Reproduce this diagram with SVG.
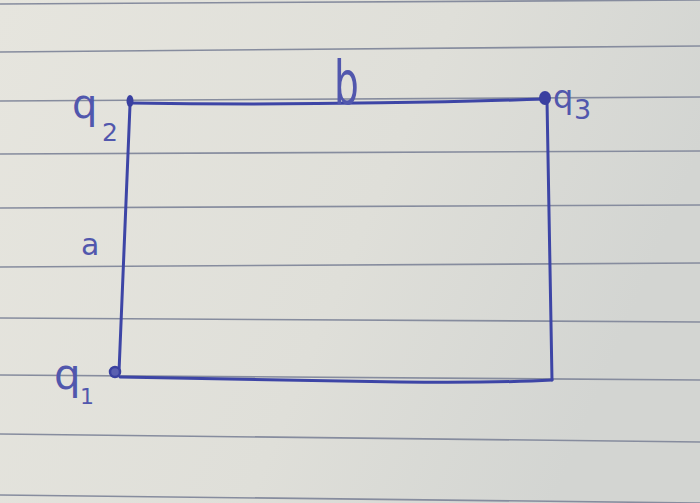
<svg xmlns="http://www.w3.org/2000/svg" width="700" height="503" viewBox="0 0 700 503">
<defs>
<linearGradient id="paper" x1="0" y1="0" x2="1" y2="0.3">
<stop offset="0" stop-color="#e6e5de"/>
<stop offset="0.6" stop-color="#dfdfd9"/>
<stop offset="1" stop-color="#d3d5d2"/>
</linearGradient>
</defs>
<style>
.rule{stroke:#868c9e;stroke-width:1.6;fill:none}
.ink{stroke:#3d45a6;stroke-width:3;fill:none;stroke-linecap:round;stroke-linejoin:round}
.dot{fill:#3a40a0}
.lbl{font-family:"DejaVu Sans","Liberation Sans",sans-serif;fill:#5157ad}
</style>
<rect width="700" height="503" fill="url(#paper)"/>
<g id="ruling">
<path class="rule" d="M0 4 L700 0"/>
<path class="rule" d="M0 52 L700 46"/>
<path class="rule" d="M0 101 L700 97"/>
<path class="rule" d="M0 154 L700 151"/>
<path class="rule" d="M0 208 L700 205"/>
<path class="rule" d="M0 267 L700 263"/>
<path class="rule" d="M0 318 L700 322"/>
<path class="rule" d="M0 375 L700 380"/>
<path class="rule" d="M0 434 L700 442"/>
<path class="rule" d="M0 495 L700 503"/>
</g>
<g id="connectors">
<path class="ink" d="M130 103 Q330 106 546 99"/>
<path class="ink" d="M547 100 Q550 240 552 380"/>
<path class="ink" d="M120 377 Q300 380 400 382 Q500 383 552 380"/>
<path class="ink" d="M130 105 Q124 240 119 372"/>
</g>
<g id="q2">
<ellipse class="dot" cx="130" cy="101" rx="3.5" ry="6"/>
<text class="lbl" x="72" y="118" font-size="40">q</text>
<text class="lbl" x="102" y="141" font-size="25">2</text>
</g>
<g id="q3">
<ellipse class="dot" cx="545" cy="98" rx="6" ry="7"/>
<text class="lbl" x="553" y="108" font-size="32">q</text>
<text class="lbl" x="574" y="119" font-size="27">3</text>
</g>
<g id="q1">
<circle cx="115" cy="372" r="5" fill="#5a5fb0" stroke="#3a40a0" stroke-width="2.5"/>
<text class="lbl" x="54" y="389" font-size="42">q</text>
<text class="lbl" x="80" y="404" font-size="22">1</text>
</g>
<g id="label-a">
<text class="lbl" x="81" y="255" font-size="30">a</text>
</g>
<g id="label-b">
<text class="lbl" transform="translate(334 104) scale(0.85 1.3)" font-size="46">b</text>
</g>
</svg>
